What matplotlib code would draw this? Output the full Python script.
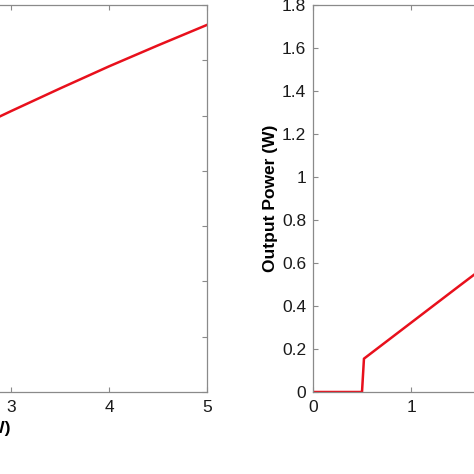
import numpy as np
import matplotlib
matplotlib.use("Agg")
import matplotlib.pyplot as plt
from matplotlib.ticker import FormatStrFormatter

plt.rcParams['font.family'] = ['Liberation Sans', 'DejaVu Sans']

# left panel (mostly cropped away in the reference)
pump_left = [2.5, 3.0, 3.5, 4.0, 4.5, 5.0]
val_left = [46.6, 50.8, 54.9, 58.9, 62.7, 66.4]

# right panel: output power vs pump power
pump_right = [0.0, 0.5, 0.52, 1.0, 1.5, 1.7]
out_right = [0.0, 0.0, 0.155, 0.322, 0.496, 0.565]

W = H = 474.0
fig = plt.figure(figsize=(4.74, 4.74), dpi=100)

# axes boxes in pixels; they run off the canvas as in the reference crop
ax1 = fig.add_axes([-283 / W, (H - 392) / H, 490 / W, 387 / H])
ax2 = fig.add_axes([313 / W, (H - 392) / H, 490 / W, 387 / H])

red = '#e8101c'
spine = '#8a8a8a'
fs = 12.5

ax1.plot(pump_left, val_left, color=red, lw=1.8)
ax1.set_xlim(0, 5)
ax1.set_ylim(0, 70)
ax1.set_xticks(range(0, 6))
ax1.set_yticks(range(0, 71, 10))
ax1.set_xlabel('Pump Power (W)', fontsize=fs, fontweight='bold')
ax1.xaxis.set_label_coords(0.458, -0.075)

ax2.plot(pump_right, out_right, color=red, lw=1.8)
ax2.set_xlim(0, 5)
ax2.set_ylim(0, 1.8)
ax2.set_xticks(range(0, 6))
ax2.set_yticks(np.arange(0, 1.81, 0.2))
ax2.yaxis.set_major_formatter(FormatStrFormatter('%g'))
ax2.set_xlabel('Pump Power (W)', fontsize=fs, fontweight='bold')
ax2.xaxis.set_label_coords(0.5, -0.075)
ax2.set_ylabel('Output Power (W)', fontsize=fs, fontweight='bold', labelpad=3)

for ax in (ax1, ax2):
    for s in ax.spines.values():
        s.set_color(spine)
        s.set_linewidth(0.9)
    ax.tick_params(direction='in', length=3.5, width=0.8, color=spine,
                   top=True, right=True, labelsize=fs, labelcolor='#1a1a1a')
    ax.tick_params(axis='x', pad=6)
    ax.tick_params(axis='y', pad=5)

fig.savefig('out.png', dpi=100)
